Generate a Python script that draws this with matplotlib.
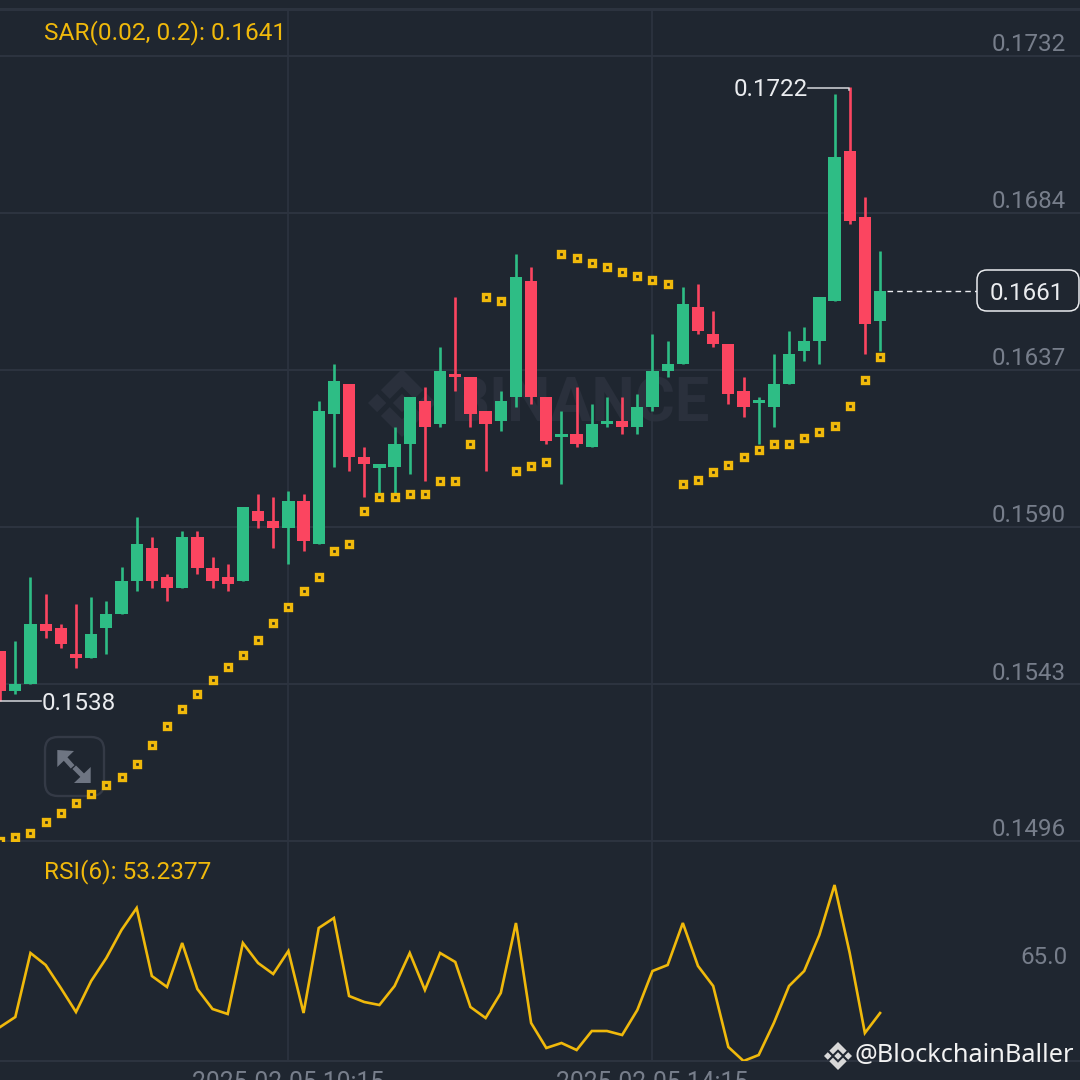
import matplotlib
matplotlib.use("Agg")
import matplotlib.pyplot as plt
from matplotlib.patches import FancyBboxPatch, Polygon
from matplotlib.lines import Line2D
from matplotlib.transforms import Affine2D, ScaledTranslation

# candles, left to right
opens = [0.15535, 0.15415, 0.15436, 0.15616, 0.15604, 0.15526, 0.15514, 0.15604, 0.15646, 0.15745,
         0.15844, 0.15757, 0.15724, 0.15877, 0.15784, 0.15757, 0.15745, 0.15955, 0.15925, 0.15904,
         0.15985, 0.15856, 0.16246, 0.16336, 0.16117, 0.16084, 0.16087, 0.16156, 0.16285, 0.16216,
         0.16366, 0.16357, 0.16255, 0.16225, 0.16297, 0.16645, 0.16297, 0.16177, 0.16186, 0.16147,
         0.16216, 0.16225, 0.16207, 0.16267, 0.16375, 0.16396, 0.16567, 0.16486, 0.16456, 0.16315,
         0.16279, 0.16267, 0.16336, 0.16435, 0.16465, 0.16585, 0.17035, 0.16837, 0.16525]
highs = [0.15535, 0.15565, 0.15757, 0.15706, 0.15616, 0.15676, 0.15697, 0.15685, 0.15787, 0.15937,
         0.15877, 0.15766, 0.15895, 0.15895, 0.15817, 0.15796, 0.15967, 0.16006, 0.15997, 0.16015,
         0.16006, 0.16285, 0.16396, 0.16336, 0.16147, 0.16096, 0.16207, 0.16297, 0.16327, 0.16447,
         0.16597, 0.16357, 0.16255, 0.16315, 0.16726, 0.16687, 0.16297, 0.16255, 0.16327, 0.16276,
         0.16297, 0.16297, 0.16306, 0.16486, 0.16465, 0.16627, 0.16636, 0.16555, 0.16456, 0.16357,
         0.16297, 0.16426, 0.16495, 0.16507, 0.16597, 0.17206, 0.17227, 0.16897, 0.16735]
lows = [0.15385, 0.15406, 0.15436, 0.15574, 0.15544, 0.15484, 0.15514, 0.15526, 0.15646, 0.15715,
        0.15724, 0.15685, 0.15724, 0.15766, 0.15724, 0.15715, 0.15745, 0.15904, 0.15844, 0.15796,
        0.15835, 0.15856, 0.16087, 0.16075, 0.15997, 0.16003, 0.16009, 0.16066, 0.16045, 0.16207,
        0.16315, 0.16207, 0.16075, 0.16195, 0.16267, 0.16276, 0.16156, 0.16036, 0.16147, 0.16147,
        0.16207, 0.16186, 0.16186, 0.16255, 0.16357, 0.16396, 0.16486, 0.16447, 0.16276, 0.16237,
        0.16156, 0.16207, 0.16336, 0.16405, 0.16396, 0.16585, 0.16816, 0.16426, 0.16435]
closes = [0.15415, 0.15436, 0.15616, 0.15595, 0.15556, 0.15514, 0.15586, 0.15646, 0.15745, 0.15856,
          0.15745, 0.15724, 0.15877, 0.15784, 0.15745, 0.15736, 0.15967, 0.15925, 0.15904, 0.15985,
          0.15865, 0.16255, 0.16345, 0.16117, 0.16096, 0.16096, 0.16156, 0.16297, 0.16207, 0.16375,
          0.16357, 0.16246, 0.16216, 0.16285, 0.16657, 0.16297, 0.16165, 0.16186, 0.16156, 0.16216,
          0.16225, 0.16207, 0.16267, 0.16375, 0.16396, 0.16576, 0.16495, 0.16456, 0.16306, 0.16267,
          0.16288, 0.16336, 0.16426, 0.16465, 0.16597, 0.17017, 0.16825, 0.16516, 0.16615]

sar = [0.14965, 0.14977, 0.14989, 0.15022, 0.15049, 0.15079, 0.15106, 0.15133, 0.15157, 0.15196,
       0.15253, 0.15310, 0.15361, 0.15406, 0.15448, 0.15487, 0.15523, 0.15568, 0.15619, 0.15667,
       0.15715, 0.15757, 0.15835, 0.15856, 0.15955, 0.15997, 0.15997, 0.16006, 0.16006, 0.16045,
       0.16045, 0.16156, 0.16597, 0.16585, 0.16075, 0.16090, 0.16102, 0.16726, 0.16714, 0.16699,
       0.16687, 0.16672, 0.16660, 0.16648, 0.16636, 0.16036, 0.16048, 0.16072, 0.16093, 0.16117,
       0.16138, 0.16156, 0.16156, 0.16174, 0.16192, 0.16210, 0.16270, 0.16348, 0.16417]

rsi = [49.75, 52.25, 68.25, 65.25, 59.5, 53.5, 61.25, 67.0, 74.0, 79.5,
       62.5, 59.75, 70.75, 59.25, 54.25, 53.0, 70.75, 65.75, 63.0, 68.75,
       53.25, 74.5, 77.0, 57.5, 56.0, 55.25, 60.0, 68.25, 59.0, 68.25,
       66.0, 54.75, 52.0, 58.25, 75.75, 50.75, 44.5, 45.75, 44.0, 48.75,
       48.75, 47.75, 54.0, 63.75, 65.25, 75.75, 65.0, 60.0, 44.75, 41.25,
       42.75, 50.75, 60.0, 63.75, 72.75, 85.25, 68.25, 48.25, 53.24]

price_grid = [0.14965, 0.15436, 0.15907, 0.16378, 0.16849, 0.17320]
price_labels = ["0.1496", "0.1543", "0.1590", "0.1637", "0.1684", "0.1732"]
time_ticks = [19, 43]
time_labels = ["2025-02-05 10:15", "2025-02-05 14:15"]

BG = "#1F2630"
GRID = "#2C333F"
UP = "#2EBD85"
DOWN = "#FB4560"
YELLOW = "#F0B90B"
TICK = "#777E8B"
WM = "#2A303C"
FONT = "Roboto"

fig = plt.figure(figsize=(10.8, 10.8), dpi=100, facecolor=BG)
# pixel coordinates for the overlays, y going down
px = Affine2D().scale(1 / 1080, -1 / 1080).translate(0, 1) + fig.transFigure

ax = fig.add_axes([0, 239 / 1080, 1, 832 / 1080], facecolor="none", zorder=2)
ax2 = fig.add_axes([0, 19 / 1080, 1, 220 / 1080], facecolor="none", zorder=2)

idx = list(range(len(opens)))
colors = [UP if c >= o else DOWN for o, c in zip(opens, closes)]
ax.vlines(idx, lows, highs, colors=colors, lw=1.9, zorder=3)
ax.bar(idx, [abs(c - o) for o, c in zip(opens, closes)],
       bottom=[min(o, c) for o, c in zip(opens, closes)],
       width=0.81, color=colors, zorder=4)
ax.plot(idx, sar, ls="none", marker="s", ms=4.1, mfc="#2A2A20", mec=YELLOW, mew=2.4, zorder=5)
ax2.plot(idx, rsi, color=YELLOW, lw=1.9, solid_joinstyle="miter", zorder=3)

for a in (ax, ax2):
    a.set_xlim(-0.0092, 71.18)
    for s in ("left", "right"):
        a.spines[s].set_visible(False)
    for s in ("top", "bottom"):
        a.spines[s].set_color(GRID)
        a.spines[s].set_linewidth(1.5)
    a.set_xticks(time_ticks)
    a.grid(axis="x", color=GRID, lw=1.3)
    a.set_axisbelow(True)
ax.spines["top"].set_linewidth(2.2)
ax.tick_params(axis="x", length=0, labelbottom=False)
ax2.spines["top"].set_visible(False)

ax.set_ylim(0.14965, 0.17461)
ax.yaxis.tick_right()
ax.set_yticks(price_grid, labels=price_labels)
ax.grid(axis="y", color=GRID, lw=1.5)
ax.tick_params(axis="y", length=0, pad=-63.4, labelsize=17.4, labelcolor=TICK)
for lab in ax.get_yticklabels():
    lab.set_family(FONT)
    lab.set_transform(lab.get_transform() + ScaledTranslation(0, 13.5 / 100, fig.dpi_scale_trans))

ax2.set_ylim(41.25, 96.25)
ax2.yaxis.tick_right()
ax2.set_yticks([65], labels=["65.0"])
ax2.tick_params(axis="y", length=0, pad=-43.2, labelsize=17.4, labelcolor=TICK)
for lab in ax2.get_yticklabels():
    lab.set_family(FONT)
    lab.set_transform(lab.get_transform() + ScaledTranslation(0, 10.5 / 100, fig.dpi_scale_trans))
ax2.set_xticks(time_ticks, labels=time_labels)
ax2.tick_params(axis="x", length=0, pad=7.5, labelsize=17.7, labelcolor=TICK)
for lab in ax2.get_xticklabels():
    lab.set_family(FONT)


def logo(cx, cy, r, color, z):
    # the four small diamonds and two chevrons of the exchange logo
    small = 0.27
    for dx in (-0.73, 0, 0.73):
        pts = [(dx, -small), (dx + small, 0), (dx, small), (dx - small, 0)]
        fig.add_artist(Polygon([(cx + x * r, cy + y * r) for x, y in pts], color=color, lw=0, transform=px, zorder=z))
    chev = [(0, -1), (0.62, -0.38), (0.36, -0.12), (0, -0.48), (-0.36, -0.12), (-0.62, -0.38)]
    for sign in (1, -1):
        fig.add_artist(Polygon([(cx + x * r, cy + sign * y * r) for x, y in chev], color=color, lw=0, transform=px, zorder=z))


def ptext(x, y, s, color, size, ha="left", family=FONT, z=6, weight="normal"):
    fig.add_artist(plt.Text(x, y, s, color=color, fontsize=size, ha=ha, va="center",
                            family=family, transform=px, zorder=z, weight=weight))


# faint watermark under the candles
logo(402, 403, 34, WM, 1)
ptext(450, 404, "BINANCE", WM, 44, weight="bold", z=1)

ptext(44, 33, "SAR(0.02, 0.2): 0.1641", YELLOW, 17.6)
ptext(44, 872, "RSI(6): 53.2377", YELLOW, 17.6)

# high / low callouts
fig.add_artist(Line2D([808, 849, 849], [88, 88, 90], color="#D5D7DB", lw=1.1, transform=px, zorder=6))
ptext(734, 89, "0.1722", "#EAECEF", 17.4)
fig.add_artist(Line2D([0, 41], [701, 701], color="#D5D7DB", lw=1.1, transform=px, zorder=6))
ptext(42, 703, "0.1538", "#EAECEF", 17.4)

# last price tag
fig.add_artist(Line2D([887, 978], [291, 291], color="#EAECEF", lw=1.0, ls=(0, (4, 3)), transform=px, zorder=6))
fig.add_artist(FancyBboxPatch((977, 270), 102, 41, boxstyle="round,pad=0,rounding_size=10", fc=BG,
                              ec="#EAECEF", lw=1.1, transform=px, zorder=6))
ptext(1027, 294, "0.1661", "#EAECEF", 17.4, ha="center", z=7)

# expand button
fig.add_artist(FancyBboxPatch((45, 737), 59, 59, boxstyle="round,pad=0,rounding_size=13", fc="none",
                              ec="#343A46", lw=1.7, transform=px, zorder=1))
ICON = "#6E7582"
fig.add_artist(Polygon([(57.3, 750), (74, 751), (57.3, 767)], color=ICON, lw=0, transform=px, zorder=1))
fig.add_artist(Polygon([(90.7, 783), (74, 783), (90.7, 767)], color=ICON, lw=0, transform=px, zorder=1))
fig.add_artist(Line2D([62, 71], [755, 765], color=ICON, lw=3.6, transform=px, zorder=1))
fig.add_artist(Line2D([76, 86], [769, 779], color=ICON, lw=3.6, transform=px, zorder=1))

# poster handle
logo(838, 1056, 14, "#D8D8D8", 8)
ptext(855, 1056, "@BlockchainBaller", "#F2F2F2", 18.2, family="Noto Sans", z=8)

fig.savefig("out.png", dpi=100, facecolor=BG)
